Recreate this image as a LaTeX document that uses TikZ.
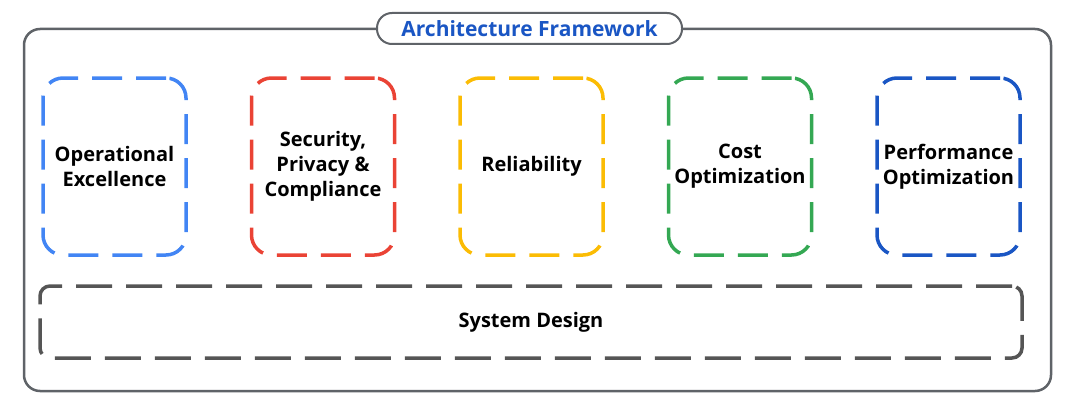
\documentclass[tikz,border=0pt]{standalone}
\usepackage{fontspec}
\setmainfont{Open Sans}
\usetikzlibrary{positioning}
\definecolor{gblue}{HTML}{4285F4}
\definecolor{gred}{HTML}{EA4335}
\definecolor{gyellow}{HTML}{FBBC04}
\definecolor{ggreen}{HTML}{34A853}
\definecolor{gdeep}{HTML}{1A56C4}
\definecolor{ggray}{HTML}{5F6368}
\definecolor{gdark}{HTML}{555555}

\begin{document}
\begin{tikzpicture}[
  x=1pt, y=-1pt, node distance=62pt,
  frame/.style={draw=ggray,line width=2.5pt,rounded corners=16pt,minimum width=1027pt,minimum height=362pt},
  pillar/.style={draw,line width=3.5pt,dash pattern=on 30pt off 14pt,rounded corners=20pt,
    minimum width=143pt,minimum height=177pt,align=center,font=\fontsize{20}{25}\selectfont\bfseries},
  base/.style={draw=gdark,line width=3.5pt,dash pattern=on 36pt off 14pt,rounded corners=10pt,
    minimum width=982pt,minimum height=72pt,font=\fontsize{20}{25}\selectfont\bfseries},
  title/.style={draw=ggray,fill=white,line width=2pt,rounded corners=15pt,minimum width=305pt,
    minimum height=31pt,inner sep=0pt,text=gdeep,font=\fontsize{21}{25}\selectfont\bfseries}]
  \useasboundingbox (0,0) rectangle (1075,404);
  \node[frame] (fw) at (537.5,210) {};
  \node[title] (ttl) at (529.5,28.5) {Architecture Framework};
  % the five pillars
  \node[pillar,draw=gblue] (ops) at (114.5,166.5) {Operational\\Excellence};
  \node[pillar,draw=gred,right=of ops] (sec) {Security,\\Privacy \&\\Compliance};
  \node[pillar,draw=gyellow,right=of sec] (rel) {Reliability};
  \node[pillar,draw=ggreen,right=of rel] (cost) {Cost\\Optimization};
  \node[pillar,draw=gdeep,right=of cost] (perf) {Performance\\Optimization};
  \node[base] (sys) at (531,322) {System Design};
\end{tikzpicture}
\end{document}
